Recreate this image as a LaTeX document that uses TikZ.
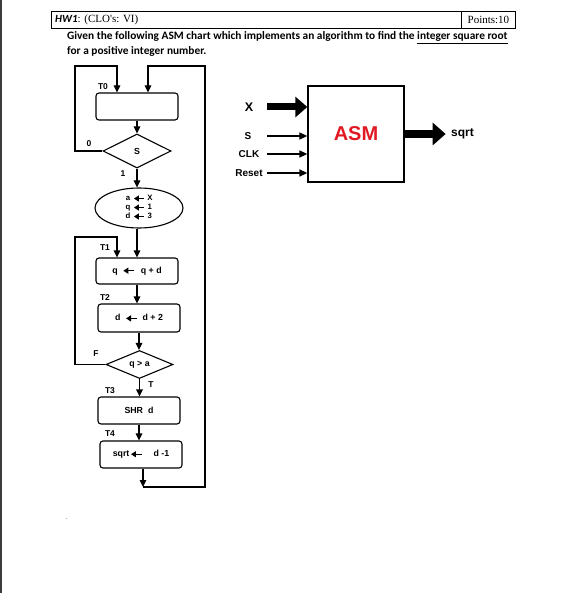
\documentclass[tikz,border=0pt]{standalone}
\usepackage{fontspec}
\setmainfont{Liberation Sans}
\newfontfamily\carl{Carlito}
\newfontfamily\tnr{Liberation Serif}
\usetikzlibrary{arrows.meta,shapes.geometric,calc}
\definecolor{asmred}{RGB}{225,25,35}
\definecolor{edgegray}{RGB}{60,60,60}
\newcommand\larr{\tikz[baseline=-0.55ex]\draw[line width=1.2pt,-{Triangle[length=5pt,width=6pt]}] (1.25em,0pt) -- (0pt,0pt);}
\begin{document}
\begin{tikzpicture}[x=1pt,y=-1pt,
  sbox/.style={draw, line width=1.1pt, rounded corners=3pt, minimum width=82pt, minimum height=27pt, inner sep=0pt, font=\bfseries\fontsize{8.8}{10}\selectfont},
  dia/.style={draw, diamond, line width=1.1pt, inner sep=0pt, font=\bfseries\fontsize{8.8}{10}\selectfont},
  lab/.style={inner sep=0pt, font=\bfseries\fontsize{8.5}{10}\selectfont},
  arr/.style={line width=1.1pt, -{Triangle[length=7pt,width=6.5pt]}},
  tarr/.style={line width=1.3pt, -{Triangle[length=8pt,width=7pt]}},
  fat/.style={line width=7pt, -{Triangle[length=12pt,width=20pt]}},
  iolab/.style={inner sep=0pt, font=\bfseries\fontsize{10}{12}\selectfont},
]
\useasboundingbox (0,0) rectangle (576,593);
\fill[white] (0,0) rectangle (576,593);
\draw[edgegray, line width=1.5pt] (0.75,0) -- (0.75,593);

% header
\node[draw, line width=0.9pt, minimum width=410pt, minimum height=17pt, inner sep=0pt, anchor=north west] (hw) at (51,11) {};
\node[draw, line width=0.9pt, minimum width=54pt, minimum height=17pt, inner sep=0pt, anchor=north west, font=\tnr\fontsize{11}{13}\selectfont] (pts) at (461,11) {Points:10};
\node[anchor=west, inner sep=0pt, font=\fontsize{11}{13}\selectfont] (hwt) at (55,20) {{\carl\bfseries\itshape HW1}{\tnr: (CLO's: VI)}};
\node[anchor=base west, inner sep=0pt, font=\carl\bfseries\fontsize{11.35}{13}\selectfont] (g1) at (67,40) {Given the following ASM chart which implements an algorithm to find the \underline{integer square root}};
\node[anchor=base west, inner sep=0pt, font=\carl\bfseries\fontsize{11.35}{13}\selectfont] (g2) at (67,55) {for a positive integer number.};

% ASM chart
\node[sbox] (t0) at (137,106.5) {};
\node[dia, minimum width=68pt, minimum height=34pt] (s) at (137,151) {S};
\node[draw, ellipse, line width=1.1pt, minimum width=88pt, minimum height=40pt, inner sep=0pt, font=\bfseries\fontsize{7.8}{9}\selectfont] (ini) at (139,208)
  {\renewcommand\arraystretch{1}\begin{tabular}{@{}c@{\hspace{3pt}}c@{\hspace{3pt}}c@{}}a&\larr&X\\ q&\larr&1\\ d&\larr&3\end{tabular}};
\node[sbox, minimum height=26pt] (qb) at (137,271) {q\hspace{5pt}\larr\hspace{6pt}q + d};
\node[sbox, minimum height=28pt] (db) at (139,318) {d\hspace{5pt}\larr\hspace{5pt}d + 2};
\node[dia, minimum width=67pt, minimum height=28pt] (qa) at (139.5,364.5) {q > a};
\node[sbox] (shr) at (139,410.5) {SHR\hspace{5pt}d};
\node[sbox] (sq) at (141,454.5) {sqrt\hspace{1pt}\larr\hspace{11pt}d -1};

\coordinate (end) at (143,487);
\coordinate (l0) at (75,66);
\coordinate (r0) at (205,66);
\coordinate (l1) at (75,237);

\draw[arr] (t0.south) -- (t0.south |- s.north);
\draw[arr] (s.south) -- (s.south |- ini.north);
\draw[arr] (ini.south -| qb.south) -- (qb.north);
\draw[arr] (qb.south) -- (qb.south |- db.north);
\draw[arr] (db.south) -- (db.south |- qa.north);
\draw[arr] (qa.south) -- (qa.south |- shr.north);
\draw[arr] (shr.south) -- (shr.south |- sq.north);
\draw[arr] (sq.south -| end) -- (end);
\draw[arr] (s.west) -| (l0) -| ([xshift=-20pt]t0.north);
\draw[arr] (end) -| (r0) -| ([xshift=11pt]t0.north);
\draw[arr] (qa.west) -| (l1) -| ([xshift=-20pt]qb.north);

\node[lab] (lt0) at (103,87) {T0};
\node[lab] (l0l) at (89,144) {0};
\node[lab] (l1l) at (123,174) {1};
\node[lab] (lt1) at (105,248) {T1};
\node[lab] (lt2) at (105,298) {T2};
\node[lab] (lf) at (96,354) {F};
\node[lab] (lt) at (151,385) {T};
\node[lab] (lt3) at (110,391) {T3};
\node[lab] (lt4) at (110,434) {T4};
\node[inner sep=0pt, font=\fontsize{6}{7}\selectfont] (dot) at (67,519) {.};

% ASM block
\node[draw, line width=1.3pt, minimum width=96pt, minimum height=96pt, inner sep=0pt, text=asmred, font=\bfseries\fontsize{20}{22}\selectfont] (asm) at (356,134) {ASM};
\node[inner sep=0pt, font=\bfseries\fontsize{12.5}{14}\selectfont] (xl) at (249,107) {X};
\node[iolab] (sl) at (248,136) {S};
\node[iolab] (cl) at (249,154) {CLK};
\node[iolab] (rl) at (249,173) {Reset};
\node[inner sep=0pt, anchor=west, font=\bfseries\fontsize{12}{14}\selectfont] (ol) at (451,134) {sqrt};

\draw[fat] ($(asm.west |- xl)+(-40,0)$) -- (asm.west |- xl);
\draw[tarr] ($(asm.west |- sl)+(-40,0)$) -- (asm.west |- sl);
\draw[tarr] ($(asm.west |- cl)+(-40,0)$) -- (asm.west |- cl);
\draw[tarr] ($(asm.west |- rl)+(-40,0)$) -- (asm.west |- rl);
\draw[line width=8pt, -{Triangle[length=13pt,width=22pt]}] (asm.east |- ol) -- ($(asm.east |- ol)+(41,0)$);
\end{tikzpicture}
\end{document}
